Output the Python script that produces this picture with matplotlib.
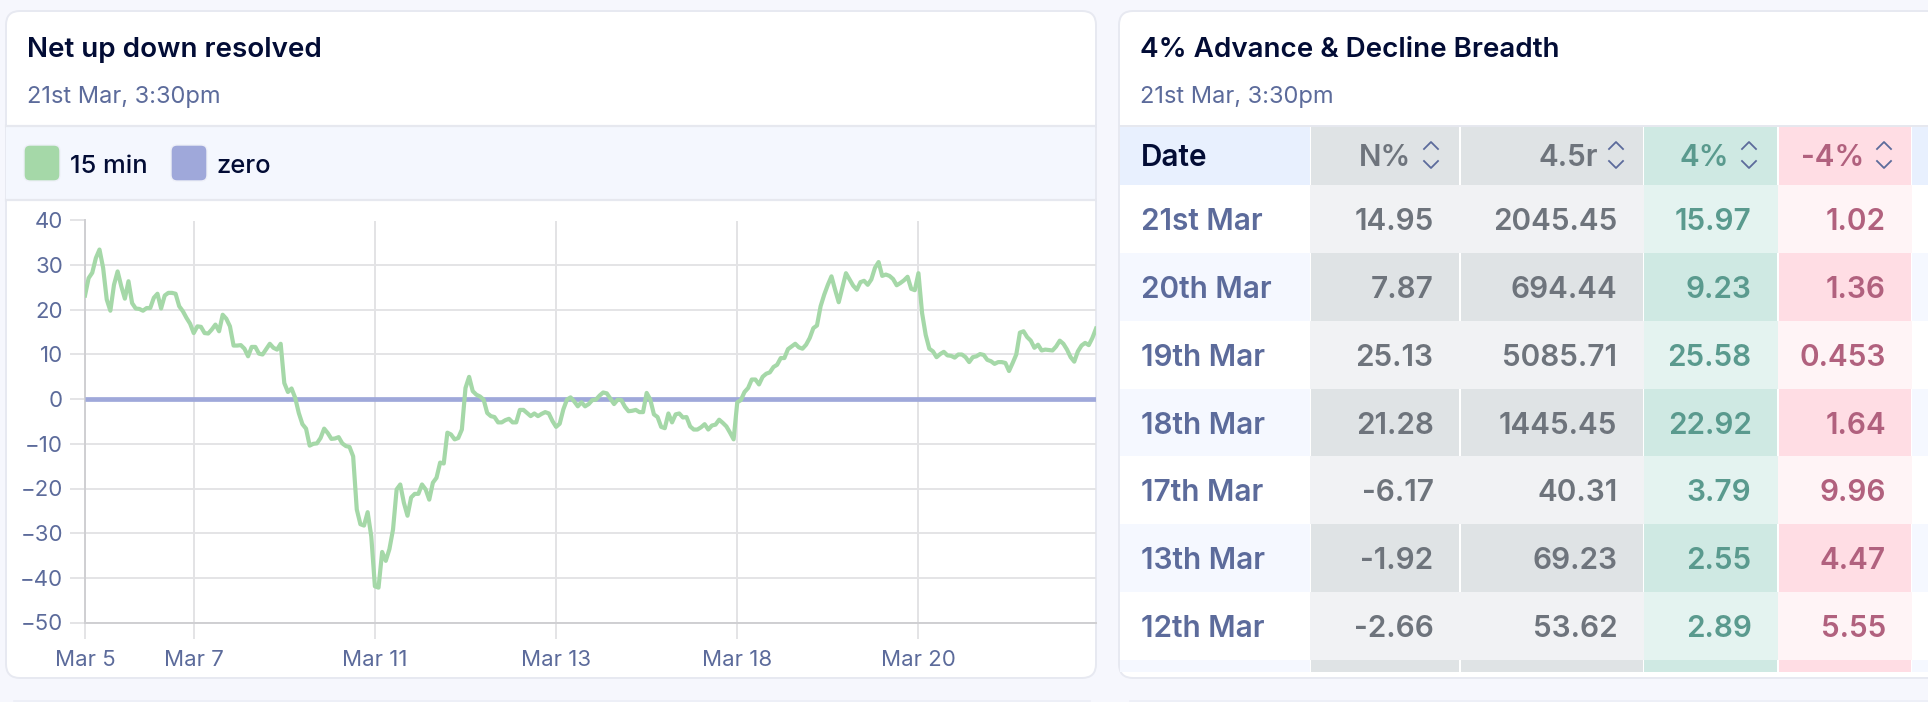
"""Net up down line chart next to the 4% breadth table."""

import matplotlib
matplotlib.use("Agg")
import matplotlib.pyplot as plt
from matplotlib.patches import FancyBboxPatch, Rectangle
import numpy as np

plt.rcParams['font.family'] = ['Inter', 'DejaVu Sans']

# 15 min net up down, one value per bar
net_15min = [
    23.2, 27.1, 28.3, 31.6, 33.5, 29.4, 22.3, 19.8, 25.6, 28.6,
    25.3, 22.5, 26.4, 21.5, 20.3, 20.2, 19.8, 20.4, 20.4, 22.7,
    23.6, 20.3, 23.2, 23.8, 23.8, 23.6, 20.8, 19.7, 18.2, 16.9,
    14.8, 16.3, 16.2, 14.8, 14.7, 15.6, 16.7, 15.2, 18.9, 18.0,
    16.3, 12.0, 12.0, 12.1, 11.3, 9.6, 11.7, 11.7, 10.2, 10.0,
    11.2, 12.4, 11.5, 11.1, 12.4, 3.6, 1.6, 2.4, 0.3, -3.1,
    -5.6, -6.6, -10.4, -10.0, -9.9, -8.7, -6.6, -7.6, -8.9, -8.8,
    -8.5, -9.9, -10.5, -10.7, -12.8, -24.7, -28.0, -28.3, -25.3, -30.7,
    -41.9, -42.2, -34.2, -36.2, -33.6, -29.2, -20.2, -19.1, -23.2, -26.1,
    -22.0, -21.2, -21.2, -19.1, -20.2, -22.5, -18.7, -17.6, -14.2, -14.4,
    -7.5, -7.9, -9.0, -8.7, -6.8, 2.5, 5.0, 1.8, 1.0, 0.6,
    -0.1, -3.1, -3.8, -4.0, -5.2, -5.2, -4.7, -4.4, -5.2, -5.2,
    -2.4, -2.4, -3.1, -3.8, -3.2, -3.8, -3.3, -2.9, -3.2, -4.9,
    -6.2, -5.5, -2.3, -0.1, 0.4, -0.5, -1.6, -0.7, -1.6, -1.1,
    -0.2, -0.1, 0.8, 1.5, 1.3, 0.1, -1.1, -0.1, -0.2, -1.7,
    -2.7, -2.6, -2.4, -2.9, -2.9, 1.4, -0.1, -3.4, -4.0, -6.2,
    -6.5, -3.2, -5.2, -3.4, -3.2, -4.1, -4.0, -6.1, -6.8, -6.8,
    -6.3, -5.6, -6.8, -5.9, -5.7, -4.6, -5.3, -6.1, -7.5, -9.0,
    -0.7, -0.2, 1.6, 2.5, 4.4, 4.4, 3.3, 5.0, 5.7, 6.0,
    7.2, 7.7, 9.2, 9.2, 11.2, 11.8, 12.4, 11.6, 11.3, 12.2,
    13.7, 15.9, 16.5, 20.8, 23.4, 25.6, 27.5, 24.5, 21.7, 24.9,
    28.2, 26.8, 25.4, 24.5, 26.2, 26.5, 25.6, 26.8, 29.4, 30.7,
    27.6, 27.9, 27.6, 26.9, 25.5, 26.0, 26.6, 27.4, 24.7, 24.4,
    28.2, 19.3, 14.4, 11.3, 10.7, 9.4, 10.1, 10.6, 9.8, 9.7,
    9.3, 10.0, 10.0, 9.4, 8.3, 9.4, 9.6, 10.1, 9.9, 8.8,
    8.5, 7.9, 8.3, 8.3, 8.1, 6.3, 8.1, 10.0, 14.9, 15.2,
    13.9, 13.1, 11.5, 12.2, 10.9, 11.1, 11.0, 10.9, 11.8, 13.1,
    12.4, 11.1, 9.4, 8.4, 10.7, 12.0, 12.6, 12.1, 13.7, 15.8,
]
zero_line = [0, 0]
date_ticks = [0, 30, 80, 130, 180, 230]
date_labels = ['Mar 5', 'Mar 7', 'Mar 11', 'Mar 13', 'Mar 18', 'Mar 20']
y_ticks = [40, 30, 20, 10, 0, -10, -20, -30, -40, -50]

# breadth table
table_dates = ['21st Mar', '20th Mar', '19th Mar', '18th Mar', '17th Mar', '13th Mar', '12th Mar']
n_pct = ['14.95', '7.87', '25.13', '21.28', '-6.17', '-1.92', '-2.66']
ratio_45 = ['2045.45', '694.44', '5085.71', '1445.45', '40.31', '69.23', '53.62']
up_4 = ['15.97', '9.23', '25.58', '22.92', '3.79', '2.55', '2.89']
down_4 = ['1.02', '1.36', '0.453', '1.64', '9.96', '4.47', '5.55']
table_headers = ['N%', '4.5r', '4%', '-4%']

W, H = 1928, 702
TITLE = '#020c35'
MUTED = '#5c6b9b'
GRID = '#e4e4e6'
GREEN = '#a5d8a8'
PURPLE = '#9fa8da'

fig = plt.figure(figsize=(W / 100, H / 100), dpi=100, facecolor='#f6f7fd')

# page layer in pixel coordinates
page = fig.add_axes([0, 0, 1, 1])
page.set_xlim(0, W)
page.set_ylim(H, 0)
page.axis('off')


def rect(x0, y0, x1, y1, color, z=2):
    page.add_patch(Rectangle((x0, y0), x1 - x0, y1 - y0, facecolor=color, edgecolor='none', zorder=z))


def card(x0, y0, x1, y1):
    page.add_patch(FancyBboxPatch((x0, y0), x1 - x0, y1 - y0, boxstyle='round,pad=0,rounding_size=14',
                                  facecolor='white', edgecolor='#e7e9f1', linewidth=1.4, zorder=1))


def px_text(x, y, s, size, color, weight='normal', ha='left'):
    page.text(x, y, s, fontsize=size, color=color, fontweight=weight, ha=ha, va='center_baseline', zorder=5)


# left card
card(6, 11, 1096, 678)
px_text(27, 47, 'Net up down resolved', 20, TITLE, 'semibold')
px_text(27, 95, '21st Mar, 3:30pm', 17, MUTED)
rect(6, 127, 1095, 199, '#f4f7fe')
page.plot([6, 1095], [126, 126], color='#e6e8ef', lw=1.6, zorder=3)
page.plot([6, 1095], [200, 200], color='#e6e8ef', lw=1.6, zorder=3)
for x0, color, label, tx in [(24, GREEN, '15 min', 70), (171, PURPLE, 'zero', 217)]:
    page.add_patch(FancyBboxPatch((x0, 145), 36, 36, boxstyle='round,pad=0,rounding_size=6',
                                  facecolor=color, edgecolor='#eef0f8', linewidth=1, zorder=4))
    px_text(tx, 164, label, 18.4, TITLE, 'medium')

# right card
card(1119, 11, 1975, 678)
px_text(1140, 47, '4% Advance & Decline Breadth', 20, TITLE, 'semibold')
px_text(1140, 95, '21st Mar, 3:30pm', 17, MUTED)

# faint top of the next row of cards
page.plot([14, 1090], [701, 701], color='#eceef6', lw=1.2, zorder=1)
page.plot([1130, W], [701, 701], color='#eceef6', lw=1.2, zorder=1)

# table
row_edges = [185, 253, 321, 389, 456, 524, 592, 660, 672]
header_cols = [(1311, 1458.5), (1461, 1642.5), (1644, 1777), (1779, 1911)]
shade_even = ['#dfe3e5', '#dfe3e5', '#cfe9e3', '#ffdde4']
shade_odd = ['#f1f2f4', '#f1f2f4', '#e4f3f0', '#fff4f6']
odd_cols = [(1310, 1461), (1459, 1644), (1644, 1778), (1778, 1912)]
text_cols = ['#6e747c', '#6e747c', '#5a9a8e', '#b1617e']
text_right = [1433.5, 1617.5, 1751.5, 1886]
head_right = [1411.5, 1598, 1729, 1864]
arrow_x = [1431, 1616, 1749, 1884]
columns = [n_pct, ratio_45, up_4, down_4]
TABLE_SIZE = 21.4

rect(1120, 126, 1310, 185, '#e8f0fe')
rect(1912, 126, W, 185, '#e8f0fe')
px_text(1141, 155, 'Date', TABLE_SIZE, TITLE, 'semibold')
page.plot([1120, W], [125.5, 125.5], color='#e6e8ef', lw=1.4, zorder=3)
for i, (x0, x1) in enumerate(header_cols):
    rect(x0, 126, x1, 185, shade_even[i])
    px_text(head_right[i], 155, table_headers[i], TABLE_SIZE, text_cols[i], 'semibold', ha='right')
    ax_x = arrow_x[i]
    page.plot([ax_x - 7, ax_x, ax_x + 7], [149, 142, 149], color=MUTED, lw=1.3, zorder=5)
    page.plot([ax_x - 7, ax_x, ax_x + 7], [161, 168, 161], color=MUTED, lw=1.3, zorder=5)

for r in range(len(row_edges) - 1):
    y0, y1 = row_edges[r], row_edges[r + 1]
    even = r % 2 == 1
    rect(1120, y0, 1310, y1, '#f5f8ff' if even else 'white')
    rect(1912, y0, W, y1, '#f5f8ff' if even else 'white')
    for i in range(4):
        x0, x1 = header_cols[i] if even else odd_cols[i]
        rect(x0, y0, x1, y1, shade_even[i] if even else shade_odd[i])
    if r < len(table_dates):
        yc = (y0 + y1) / 2
        px_text(1141, yc, table_dates[r], TABLE_SIZE, MUTED, 'semibold')
        for i in range(4):
            px_text(text_right[i], yc, columns[i][r], TABLE_SIZE, text_cols[i], 'semibold', ha='right')

# line chart
left, right, top, bottom = 85, 1096, 220.5, 622.5
ax = fig.add_axes([left / W, 1 - bottom / H, (right - left) / W, (bottom - top) / H])
ax.patch.set_alpha(0)
x = np.arange(len(net_15min))
ax.plot(x, net_15min, color=GREEN, lw=3.0, zorder=4, solid_joinstyle='round')
ax.plot([0, 279], zero_line, color=PURPLE, lw=3.4, zorder=3, solid_capstyle='butt')
ax.set_xlim(0, 279)
ax.set_ylim(-50, 40)
ax.set_yticks(y_ticks)
ax.set_xticks(date_ticks)
ax.set_xticklabels(date_labels)
ax.grid(True, axis='y', color=GRID, lw=1.4)
ax.grid(True, axis='x', color='#e1e1e3', lw=1.3)
ax.set_axisbelow(True)
ax.tick_params(axis='y', length=10.8, width=1.4, color=GRID, labelcolor=MUTED, labelsize=16, pad=5)
ax.tick_params(axis='x', length=11.5, width=1.4, color=GRID, labelcolor=MUTED, labelsize=16, pad=8)
for side in ['top', 'right']:
    ax.spines[side].set_visible(False)
for side in ['left', 'bottom']:
    ax.spines[side].set_color('#cfcfd2')
    ax.spines[side].set_linewidth(1.4)

fig.savefig('out.png', dpi=100, facecolor=fig.get_facecolor())
